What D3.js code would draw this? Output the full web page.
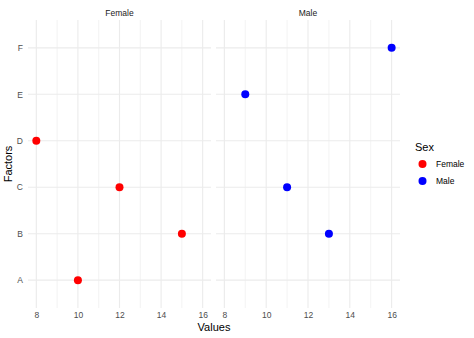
<!DOCTYPE html>
<html>
<head>
<meta charset="utf-8">
<script src="https://cdn.jsdelivr.net/npm/d3@7"></script>
<style>
  html, body { margin: 0; padding: 0; background: #fff; }
  svg { display: block; font-family: "Liberation Sans", Arial, sans-serif; }
</style>
</head>
<body>
<svg id="chart" width="474" height="338"></svg>
<script>
// Facet panels, factor levels and axis breaks
const sexes = ["Female", "Male"];
const factors = ["A", "B", "C", "D", "E", "F"];
const xBreaks = [8, 10, 12, 14, 16];
const xMinor = [9, 11, 13, 15];

// Observations per sex
const femaleFactors = ["A", "B", "C", "D"];
const femaleValues = [10, 15, 12, 8];
const maleFactors = ["B", "C", "E", "F"];
const maleValues = [13, 11, 9, 16];

const colors = { Female: "#ff0000", Male: "#0000ff" };

const data = [
  ...femaleFactors.map((f, i) => ({ sex: "Female", factor: f, value: femaleValues[i] })),
  ...maleFactors.map((f, i) => ({ sex: "Male", factor: f, value: maleValues[i] }))
];

const svg = d3.select("#chart");
const grid = "#ebebeb";

const panelTop = 20, panelBottom = 308;
const panels = { Female: [28, 211], Male: [216, 400] };

const y = d3.scalePoint().domain(factors).range([panelBottom, panelTop]).padding(0.6);

sexes.forEach(sex => {
  const [x0, x1] = panels[sex];
  const x = d3.scaleLinear().domain([7.6, 16.4]).range([x0, x1]);
  const g = svg.append("g");

  // minor vertical grid
  g.selectAll(".minor").data(xMinor).join("line")
    .attr("x1", d => x(d)).attr("x2", d => x(d))
    .attr("y1", panelTop).attr("y2", panelBottom)
    .attr("stroke", grid).attr("stroke-width", 0.6);
  // major vertical grid
  g.selectAll(".major").data(xBreaks).join("line")
    .attr("x1", d => x(d)).attr("x2", d => x(d))
    .attr("y1", panelTop).attr("y2", panelBottom)
    .attr("stroke", grid).attr("stroke-width", 1.1);
  // horizontal grid
  g.selectAll(".hgrid").data(factors).join("line")
    .attr("x1", x0).attr("x2", x1)
    .attr("y1", d => y(d)).attr("y2", d => y(d))
    .attr("stroke", grid).attr("stroke-width", 1.1);

  // strip label
  g.append("text")
    .attr("x", (x0 + x1) / 2).attr("y", 16)
    .attr("text-anchor", "middle")
    .attr("font-size", 8.5).attr("fill", "#1a1a1a")
    .text(sex);

  // x axis tick labels
  const axis = d3.axisBottom(x).tickValues(xBreaks).tickSize(0).tickPadding(0);
  const ax = g.append("g").attr("transform", `translate(0,${panelBottom + 4})`).call(axis);
  ax.select(".domain").remove();
  ax.selectAll("text").attr("font-size", 8.5).attr("fill", "#4d4d4d")
    .attr("font-family", "Liberation Sans, Arial, sans-serif")
    .attr("dy", "0.71em");

  // points
  g.selectAll(".pt").data(data.filter(d => d.sex === sex)).join("circle")
    .attr("cx", d => x(d.value)).attr("cy", d => y(d.factor))
    .attr("r", 4).attr("fill", colors[sex]);
});

// y axis tick labels
const yAxis = d3.axisLeft(y).tickSize(0).tickPadding(0);
const yg = svg.append("g").attr("transform", "translate(23,0)").call(yAxis);
yg.select(".domain").remove();
yg.selectAll("text").attr("font-size", 8.5).attr("fill", "#4d4d4d")
  .attr("font-family", "Liberation Sans, Arial, sans-serif");

// axis titles
svg.append("text")
  .attr("x", 214).attr("y", 331)
  .attr("text-anchor", "middle").attr("font-size", 11).attr("fill", "#000")
  .text("Values");
svg.append("text")
  .attr("transform", "translate(12,164) rotate(-90)")
  .attr("text-anchor", "middle").attr("font-size", 11).attr("fill", "#000")
  .text("Factors");

// legend
const legend = svg.append("g").attr("transform", "translate(415,0)");
legend.append("text").attr("x", 0).attr("y", 151)
  .attr("font-size", 11).attr("fill", "#000").text("Sex");
sexes.forEach((s, i) => {
  const cy = 164 + i * 17;
  legend.append("circle").attr("cx", 7.5).attr("cy", cy).attr("r", 4).attr("fill", colors[s]);
  legend.append("text").attr("x", 21).attr("y", cy).attr("dy", "0.35em")
    .attr("font-size", 8.5).attr("fill", "#000").text(s);
});
</script>
</body>
</html>
